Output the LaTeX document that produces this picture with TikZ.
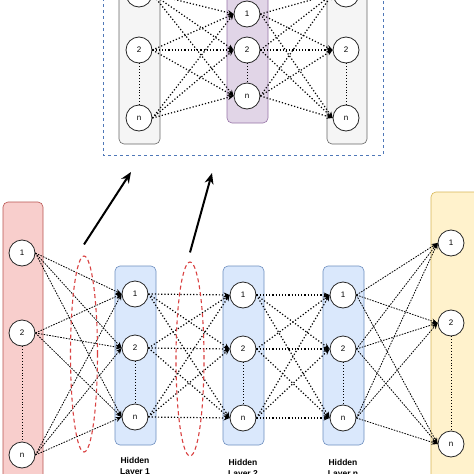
\documentclass[tikz,border=0pt]{standalone}
\usepackage{fontspec}
\setmainfont{Liberation Sans}
\usetikzlibrary{arrows.meta,shapes.geometric}

\definecolor{inputfill}{HTML}{F8CECC}
\definecolor{inputline}{HTML}{B85450}
\definecolor{hiddenfill}{HTML}{DAE8FC}
\definecolor{hiddenline}{HTML}{6C8EBF}
\definecolor{outputfill}{HTML}{FFF2CC}
\definecolor{outputline}{HTML}{D6B656}
\definecolor{grayfill}{HTML}{F5F5F5}
\definecolor{grayline}{HTML}{666666}
\definecolor{purplefill}{HTML}{E1D5E7}
\definecolor{purpleline}{HTML}{9673A6}
\definecolor{groupred}{HTML}{D94040}
\definecolor{panelblue}{HTML}{4F78B8}

\begin{document}
\begin{tikzpicture}[x=1pt,y=-1pt,
    neuron/.style={circle,draw=black!85,fill=white,line width=0.8pt,minimum size=26pt,inner sep=0pt,font=\fontsize{8}{9}\selectfont},
    link/.style={dotted,line width=1.2pt,-{Stealth[length=6pt,width=5pt]}},
    thinlink/.style={dash pattern=on 1.6pt off 1.2pt,line width=0.8pt,-{Stealth[length=6pt,width=5pt]}},
    chain/.style={dotted,line width=0.9pt},
    layerbox/.style={rounded corners=5pt,line width=0.6pt},
    group/.style={ellipse,draw=groupred,dash pattern=on 4pt off 3pt,line width=1.1pt,inner sep=0pt},
    bigarrow/.style={line width=2pt,-{Stealth[length=11pt,width=9pt]}},
    caption/.style={font=\fontsize{8.5}{11}\selectfont\bfseries,align=center}]

    \useasboundingbox (0,0) rectangle (474,474);
    \clip (0,0) rectangle (474,474);

    % Panel atas (perbesaran)
    \draw[panelblue,dash pattern=on 3pt off 3pt,line width=0.9pt] (103,-20) rectangle (383,155);
    \filldraw[layerbox,fill=grayfill,draw=grayline] (119,-40) rectangle (160,144);
    \filldraw[layerbox,fill=purplefill,draw=purpleline] (227,-40) rectangle (268,123);
    \filldraw[layerbox,fill=grayfill,draw=grayline] (327,-40) rectangle (367,144);

    \foreach \i/\y in {1/-6,2/50,n/118}
        \node[neuron] (pl\i) at (139,\y) {\i};
    \foreach \i/\y in {1/14,2/50,n/96}
        \node[neuron] (pm\i) at (247,\y) {\i};
    \foreach \i/\y in {1/-6,2/50,n/118}
        \node[neuron] (pr\i) at (346,\y) {\i};

    \foreach \a in {1,2,n}
        \foreach \b in {1,2,n} {
            \draw[link] (pl\a.east) -- (pm\b.west);
            \draw[link] (pm\a.east) -- (pr\b.west);
        }
    \foreach \l in {pl,pm,pr}
        \draw[chain] (\l2.south) -- (\l n.north);

    % Kotak lapisan jaringan bawah
    \filldraw[layerbox,fill=inputfill,draw=inputline] (3,202) rectangle (43,495);
    \filldraw[layerbox,fill=hiddenfill,draw=hiddenline] (115,266) rectangle (156,445);
    \filldraw[layerbox,fill=hiddenfill,draw=hiddenline] (223,266) rectangle (264,445);
    \filldraw[layerbox,fill=hiddenfill,draw=hiddenline] (323,266) rectangle (364,445);
    \filldraw[layerbox,fill=outputfill,draw=outputline] (431,192) rectangle (480,495);

    % Neuron tiap lapisan
    \foreach \i/\y in {1/253,2/333,n/455}
        \node[neuron] (in\i) at (22,\y) {\i};
    \foreach \i/\y in {1/294,2/348,n/417}
        \node[neuron] (ha\i) at (135,\y) {\i};
    \foreach \i/\y in {1/295,2/349,n/418}
        \node[neuron] (hb\i) at (243,\y) {\i};
    \foreach \i/\y in {1/295,2/349,n/418}
        \node[neuron] (hc\i) at (343,\y) {\i};
    \foreach \i/\y in {1/243,2/323,n/444}
        \node[neuron] (out\i) at (451,\y) {\i};

    % Sambungan antar lapisan
    \foreach \a in {1,2,n}
        \foreach \b in {1,2,n} {
            \draw[thinlink] (in\a.east) -- (ha\b.west);
            \draw[link] (ha\a.east) -- (hb\b.west);
            \draw[link] (hb\a.east) -- (hc\b.west);
            \draw[thinlink] (hc\a.east) -- (out\b.west);
        }
    \foreach \l in {in,ha,hb,hc,out}
        \draw[chain] (\l2.south) -- (\l n.north);

    % Elips bobot dan panah ke panel atas
    \node[group,minimum width=27pt,minimum height=196pt] (g1) at (84,354) {};
    \node[group,minimum width=28pt,minimum height=194pt] (g2) at (190,359) {};
    \coordinate (t1) at (131,172);
    \coordinate (t2) at (212,173);
    \draw[bigarrow] ([yshift=11pt]g1.north) -- (t1);
    \draw[bigarrow] ([yshift=9pt]g2.north) -- (t2);

    % Label lapisan tersembunyi
    \node[caption] (lab1) at (135,467) {Hidden\\Layer 1};
    \node[caption] (lab2) at (243,469) {Hidden\\Layer 2};
    \node[caption] (lab3) at (343,469) {Hidden\\Layer n};

\end{tikzpicture}
\end{document}
